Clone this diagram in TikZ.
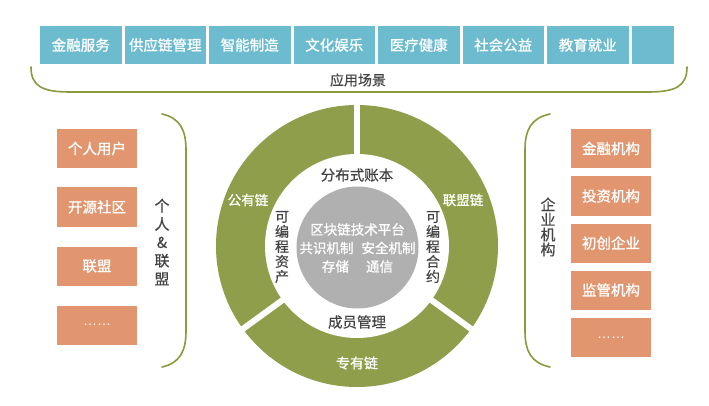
\documentclass[tikz,border=0pt]{standalone}
\usepackage{fontspec}
\setmainfont{Noto Sans CJK SC}[FakeBold=0.4]
\newfontfamily\cjkm{Noto Sans CJK SC}[FakeBold=0.9]
\newfontfamily\latinfont{Liberation Sans}
\definecolor{boxblue}{RGB}{108,187,207}
\definecolor{boxorange}{RGB}{225,150,112}
\definecolor{ringgreen}{RGB}{143,158,74}
\definecolor{coregray}{RGB}{176,176,176}
\definecolor{txtgray}{RGB}{68,68,68}
\definecolor{bracecol}{RGB}{138,154,60}
\begin{document}
\begin{tikzpicture}[x=1pt,y=-1pt,
  appbox/.style={fill=boxblue, text=white, inner sep=0pt, minimum width=81.5pt, minimum height=38pt, font=\cjkm\fontsize{14.5}{16}\selectfont},
  actbox/.style={fill=boxorange, text=white, inner sep=0pt, minimum width=80pt, minimum height=39pt, font=\cjkm\fontsize{14.5}{16}\selectfont},
  dotstext/.style={font=\latinfont\fontsize{14}{14}\selectfont},
  bracestyle/.style={draw=bracecol, line width=1.6pt, line cap=round},
  sidelabel/.style={text=txtgray, align=center, inner sep=0pt},
  ringlabel/.style={text=white, inner sep=0pt, font=\cjkm\fontsize{13.5}{15}\selectfont},
  innerlabel/.style={text=txtgray, inner sep=0pt, font=\fontsize{14.5}{16}\selectfont},
  gaplinestyle/.style={draw=white, line width=6pt}
]
\useasboundingbox (0,0) rectangle (709,406);
\fill[white] (0,0) rectangle (709,406);

% top application boxes
\node[appbox] (a1) at (80.75,45) {金融服务};
\node[appbox] (a2) at (165.25,45) {供应链管理};
\node[appbox] (a3) at (249.75,45) {智能制造};
\node[appbox] (a4) at (334.25,45) {文化娱乐};
\node[appbox] (a5) at (418.75,45) {医疗健康};
\node[appbox] (a6) at (503.25,45) {社会公益};
\node[appbox] (a7) at (587.75,45) {教育就业};
\node[appbox, minimum width=42.5pt] (a8) at (652.75,45) {};

% top brace
\draw[bracestyle] (31,67) .. controls (31,86) and (42,92) .. (70,92) -- (648,92) .. controls (676,92) and (687,86) .. (687,67);
\node[text=txtgray, inner sep=0pt, font=\fontsize{14}{16}\selectfont] (yy) at (358,80) {应用场景};

% left boxes
\node[actbox] (l1) at (97,148.5) {个人用户};
\node[actbox] (l2) at (97,207) {开源社区};
\node[actbox] (l3) at (97,266) {联盟};
\node[actbox, dotstext] (l4) at (97,325) {……};

% left brace
\draw[bracestyle] (162,114) .. controls (180,118) and (186,130) .. (186,150) -- (186,331) .. controls (186,351) and (180,363) .. (162,367);
\node[sidelabel, font=\fontsize{15}{18.3}\selectfont] (gr) at (162,242) {个\\人\\\&\\联\\盟};

% right boxes
\node[actbox] (r1) at (611,148.5) {金融机构};
\node[actbox] (r2) at (611,196) {投资机构};
\node[actbox] (r3) at (611,243) {初创企业};
\node[actbox] (r4) at (611,290) {监管机构};
\node[actbox, dotstext] (r5) at (611,337.5) {……};

% right brace
\draw[bracestyle] (550,114) .. controls (531,118) and (525,130) .. (525,150) -- (525,331) .. controls (525,351) and (531,363) .. (550,367);
\node[sidelabel, font=\fontsize{15}{15}\selectfont] (qy) at (548,227) {企\\业\\机\\构};

% ring
\coordinate (c) at (357,246);
\fill[ringgreen] (c) circle (141);
\fill[white] (c) circle (92);
\draw[gaplinestyle] (c) -- ++(270:150);
\draw[gaplinestyle] (c) -- ++(144:150);
\draw[gaplinestyle] (c) -- ++(36:150);

% core
\fill[coregray] (357.5,247.5) circle (61);
\node[text=white, align=center, inner sep=0pt, font=\cjkm\fontsize{13.5}{18.5}\selectfont] (core) at (357.5,248) {区块链技术平台\\共识机制\hspace{8pt}安全机制\\存储\hspace{17pt}通信};

% ring labels
\node[ringlabel] (pub) at (248,200) {公有链};
\node[ringlabel] (con) at (463,200) {联盟链};
\node[ringlabel, font=\cjkm\fontsize{14}{16}\selectfont] (pri) at (357,363) {专有链};

% inner labels
\node[innerlabel] (ledger) at (357,175) {分布式账本};
\node[innerlabel] (member) at (357,322) {成员管理};
\node[sidelabel, font=\fontsize{14}{15}\selectfont] (asset) at (282,247) {可\\编\\程\\资\\产};
\node[sidelabel, font=\fontsize{14}{15}\selectfont] (contract) at (433,247) {可\\编\\程\\合\\约};
\end{tikzpicture}
\end{document}
